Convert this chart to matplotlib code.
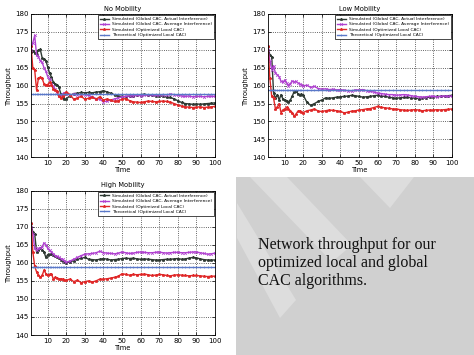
import matplotlib.pyplot as plt
from matplotlib.patches import Polygon, Rectangle

# time grid (dense at start, every 2 afterwards)
t = list(range(1, 21)) + list(range(22, 101, 2))

# No Mobility
nm_act = [169.5, 169.8, 169.2, 168.8, 169.9, 170.1, 167.8, 167.4, 167.0, 165.2,
          163.5, 162.4, 161.0, 160.4, 160.3, 159.6, 157.8, 156.9, 156.2, 156.3,
          157.2, 157.8, 157.9, 158.1, 158.0, 158.1, 158.0, 158.2, 158.3, 158.6,
          158.2, 157.9, 157.4, 157.1, 157.0, 156.9, 157.1, 157.2, 157.3, 157.5,
          157.6, 157.4, 157.3, 157.1, 157.2, 157.0, 156.8, 156.7, 156.3, 155.8,
          155.3, 155.0, 154.9, 154.8, 154.9, 154.8, 154.9, 155.0, 155.1, 155.2]
nm_avg = [170.0, 172.0, 174.0, 168.5, 168.0, 167.0, 166.5, 165.0, 164.0, 162.5,
          161.8, 160.5, 159.8, 159.0, 158.0, 157.0, 157.3, 157.6, 158.0, 157.8,
          157.4, 157.6, 157.5, 157.4, 157.5, 157.3, 156.8, 156.4, 156.2, 155.5,
          155.7, 156.0, 156.3, 156.6, 156.9, 157.0, 157.1, 157.2, 157.3, 157.2,
          157.3, 157.4, 157.4, 157.3, 157.4, 157.5, 157.4, 157.6, 157.5, 157.3,
          157.1, 157.0, 157.1, 156.9, 157.0, 157.0, 156.9, 157.0, 157.0, 157.0]
nm_loc = [171.0, 164.8, 164.3, 158.8, 162.0, 162.3, 162.0, 160.5, 160.2, 160.3,
          161.0, 160.3, 159.0, 158.8, 158.5, 157.0, 156.5, 157.0, 157.8, 158.3,
          157.5, 156.2, 156.6, 157.0, 156.2, 156.5, 156.8, 156.2, 156.9, 156.0,
          156.3, 155.9, 155.6, 155.8, 156.2, 156.4, 155.8, 155.5, 155.4, 155.3,
          155.5, 155.7, 155.6, 155.5, 155.6, 155.7, 155.6, 155.4, 155.0, 154.6,
          154.3, 154.1, 154.0, 153.9, 154.0, 154.1, 153.9, 154.0, 154.1, 154.2]
nm_theo = 157.8

# Low Mobility
lm_act = [171.0, 168.5, 168.0, 158.0, 156.5, 157.5, 156.0, 157.5, 156.3, 156.0,
          155.6, 155.4, 156.0, 157.0, 158.3, 158.6, 157.8, 157.5, 157.6, 157.3,
          155.3, 154.5, 155.0, 155.6, 156.0, 156.6, 156.5, 156.6, 156.8, 156.9,
          157.0, 157.1, 157.3, 157.2, 157.0, 156.8, 156.9, 157.0, 157.2, 157.3,
          157.1, 157.0, 156.8, 156.6, 156.5, 156.6, 156.7, 156.8, 156.6, 156.5,
          156.4, 156.5, 156.6, 156.8, 156.9, 157.0, 157.0, 157.1, 157.2, 157.3]
lm_avg = [170.0, 167.0, 164.5, 165.5, 163.5, 163.0, 162.5, 161.2, 161.0, 161.5,
          160.8, 160.0, 160.5, 161.3, 161.0, 161.2, 160.8, 160.5, 160.2, 160.0,
          160.1, 159.5, 159.8, 159.2, 159.0, 159.1, 158.9, 159.0, 158.8, 158.9,
          158.7, 158.6, 158.5, 158.8, 158.8, 158.9, 158.6, 158.4, 158.2, 157.9,
          157.8, 157.6, 157.5, 157.5, 157.3, 157.4, 157.5, 157.4, 157.2, 157.0,
          156.9, 156.8, 156.9, 157.0, 157.0, 156.9, 157.0, 157.1, 157.0, 157.1]
lm_loc = [171.0, 162.0, 157.0, 156.5, 153.5, 154.0, 155.0, 152.5, 153.2, 153.5,
          154.0, 153.6, 153.0, 152.5, 151.5, 152.0, 152.8, 153.0, 152.7, 152.5,
          153.0, 153.2, 153.5, 152.9, 152.8, 153.0, 153.2, 153.1, 153.0, 152.8,
          152.4, 152.6, 152.9, 153.0, 153.2, 153.3, 153.5, 153.6, 153.9, 154.2,
          154.0, 153.8, 153.7, 153.5, 153.5, 153.3, 153.2, 153.1, 153.2, 153.3,
          153.2, 153.0, 153.1, 153.2, 153.2, 153.3, 153.2, 153.3, 153.4, 153.5]
lm_theo = 158.8

# High Mobility
hm_act = [171.0, 168.5, 168.0, 163.0, 163.5, 164.0, 163.5, 163.0, 161.5, 162.3,
          162.4, 162.5, 162.2, 162.0, 161.6, 161.3, 160.9, 160.5, 160.2, 160.0,
          160.3, 160.6, 161.0, 161.3, 161.5, 161.0, 160.9, 160.8, 161.0, 161.2,
          161.0, 160.8, 160.9, 161.0, 161.2, 161.3, 161.2, 161.3, 161.1, 161.0,
          161.1, 161.0, 160.9, 160.8, 160.8, 160.9, 161.0, 161.0, 161.1, 161.2,
          161.0, 161.1, 161.3, 161.5, 161.4, 161.1, 160.9, 160.8, 160.8, 160.8]
hm_avg = [170.0, 168.0, 164.0, 163.5, 164.0, 164.0, 164.5, 165.5, 165.0, 164.0,
          163.5, 163.0, 162.5, 162.0, 161.8, 161.5, 161.2, 161.0, 160.6, 160.2,
          160.5, 161.0, 161.5, 162.0, 162.4, 162.5, 162.6, 162.8, 163.2, 162.8,
          162.7, 162.6, 162.5, 162.7, 163.0, 162.8, 162.6, 162.7, 162.9, 163.0,
          162.9, 162.8, 162.8, 162.9, 163.0, 162.8, 162.7, 162.8, 162.9, 162.9,
          162.8, 162.8, 162.9, 163.0, 163.0, 162.8, 162.6, 162.4, 162.5, 162.7]
hm_loc = [171.0, 163.0, 159.0, 157.5, 156.5, 156.0, 156.5, 158.0, 157.0, 156.5,
          156.8, 157.0, 155.5, 156.0, 155.8, 155.5, 155.6, 155.5, 155.3, 155.2,
          155.5, 154.8, 155.2, 154.5, 154.8, 155.0, 154.7, 155.0, 155.5, 155.5,
          155.6, 155.8, 156.0, 156.3, 157.0, 156.8, 156.6, 156.8, 156.7, 156.8,
          156.9, 156.7, 156.5, 156.6, 156.8, 156.7, 156.5, 156.4, 156.6, 156.7,
          156.6, 156.5, 156.4, 156.5, 156.5, 156.4, 156.3, 156.2, 156.3, 156.3]
hm_theo = 158.9

labels = ['Simulated (Global CAC, Actual Interference)',
          'Simulated (Global CAC, Average Interference)',
          'Simulated (Optimized Local CAC)',
          'Theoretical (Optimized Local CAC)']
colors = ['#2f3a33', '#b040d0', '#e02828', '#5a78c8']
markers = ['*', 'x', '*', '+']

fig = plt.figure(figsize=(4.74, 3.55), dpi=100)
fig.patch.set_facecolor('white')

# grey slide panel behind the caption
panel = Rectangle((236 / 474, 0), 1, 1 - 177 / 355, transform=fig.transFigure,
                  facecolor='#d0d0d0', edgecolor='none', zorder=0)
fig.patches.append(panel)
for pts in [[(360, 177), (414, 177), (390, 208)],
            [(250, 177), (287, 177), (352, 245), (332, 262)],
            [(237, 203), (237, 238), (280, 318), (296, 300)]]:
    poly = Polygon([(x / 474, 1 - y / 355) for x, y in pts], closed=True,
                   transform=fig.transFigure, facecolor='#dddddd',
                   edgecolor='none', zorder=0)
    fig.patches.append(poly)

fig.text(258 / 474, 1 - 237 / 355,
         'Network throughput for our\noptimized local and global\nCAC algorithms.',
         family='Liberation Serif', fontsize=11.5, va='top', ha='left',
         linespacing=1.15, color='#111111')

panels = [
    ([31 / 474, 1 - 157.3 / 355, 184 / 474, 143.3 / 355], 'No Mobility', nm_act, nm_avg, nm_loc, nm_theo),
    ([268 / 474, 1 - 157.3 / 355, 184 / 474, 143.3 / 355], 'Low Mobility', lm_act, lm_avg, lm_loc, lm_theo),
    ([31 / 474, 1 - 335 / 355, 184 / 474, 144.3 / 355], 'High Mobility', hm_act, hm_avg, hm_loc, hm_theo),
]

for rect, title, act, avg, loc, theo in panels:
    ax = fig.add_axes(rect)
    series = [act, avg, loc, [theo] * len(t)]
    for i in range(4):
        ax.plot(t, series[i], color=colors[i], marker=markers[i], markersize=2,
                markeredgewidth=0.5, linewidth=1.0, label=labels[i])
    ax.set_xlim(1, 100)
    ax.set_ylim(140, 180)
    ax.set_xticks(range(10, 101, 10))
    ax.set_yticks(range(140, 181, 5))
    ax.grid(True, linestyle=':', color='#333333', linewidth=0.6)
    ax.tick_params(direction='in', labelsize=5, length=2, width=0.5, pad=2,
                   top=True, right=True)
    for s in ax.spines.values():
        s.set_linewidth(0.6)
    ax.set_title(title, fontsize=4.8, pad=2.5)
    ax.set_xlabel('Time', fontsize=4.8, labelpad=1)
    ax.set_ylabel('Throughput', fontsize=4.8, labelpad=2)
    leg = ax.legend(loc='upper right', fontsize=3.15, handlelength=2.2,
                    labelspacing=0.3, borderpad=0.4, handletextpad=0.6,
                    fancybox=False, edgecolor='black', framealpha=1,
                    borderaxespad=0.3)
    leg.get_frame().set_linewidth(0.5)

fig.savefig('out.png', dpi=100)
